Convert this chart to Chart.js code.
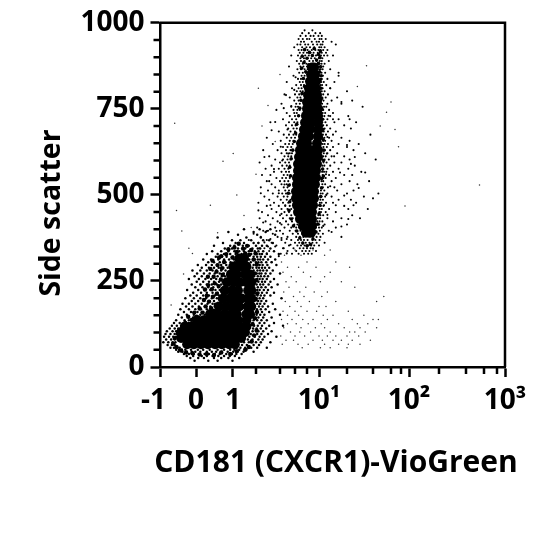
<!DOCTYPE html>
<html><head><meta charset="utf-8">
<style>html,body{margin:0;padding:0;background:#fff}canvas{display:block}</style>
<script src="https://cdn.jsdelivr.net/npm/chart.js@4"></script></head>
<body><canvas id="c" width="540" height="540"></canvas>
<script>
const xTitle = "CD181 (CXCR1)-VioGreen";
const yTitle = "Side scatter";
const xMajor = [-1,0,1,10,100,1000];
const xLabels = {"-1":"-1","0":"0","1":"1","10":"10¹","100":"10²","1000":"10³"};
const xMinor = [2,4,6,8,20,40,60,80,200,400,600,800];
const xAxisValues = [-1,0,1,2,4,6,8,10,20,40,60,80,100,200,400,600,800,1000];
const yMajor = [0,250,500,750,1000];
const yMinor = [50,100,150,200,300,350,400,450,550,600,650,700,800,850,900,950];

const lowerCoreRows = [
[66,[-0.25,-0.06,0.14,0.33,0.53,0.72,0.92,1.12]],
[84,[-0.42,-0.22,-0.03,0.17,0.36,0.56,0.75,0.94,1.17,1.38]],
[101,[-0.42,-0.22,-0.03,0.17,0.36,0.56,0.75,0.94,1.17,1.38,1.54]],
[118,[-0.31,-0.11,0.08,0.28,0.47,0.67,0.86,1.08,1.3,1.6]],
[136,[0.03,0.22,0.42,0.61,0.81,1,1.25,1.6]],
[153,[0.39,0.58,0.78,0.97,1.2,1.6,1.75]],
[176,[0.64,0.83,1.03,1.3,1.65,1.8]],
[199,[0.75,0.94,1.17,1.4,1.65,1.8]],
[222,[0.8,1,1.25,1.67,1.8]],
[246,[0.86,1.08,1.33,1.6,1.8]],
[269,[0.97,1.2,1.54,1.75]],
[292,[1.05,1.2,1.38,1.6]],
[315,[1.3,1.5]]];
const upperCoreRows = [
[870,[8.83,9.17]],[850,[8.67,9.33]],[830,[8.5,9.5]],[810,[8.33,9,9.5]],[790,[8.17,9,9.67]],
[770,[8,8.83,9.67]],[750,[8,8.83,9.83]],[730,[7.83,8.67,9.83]],[710,[7.67,8.67,9.83]],
[690,[7.5,8.5,9.83]],[670,[7.33,8.33,9.83]],[650,[7,8,9.67]],[630,[6.83,7.83,8.83,9.83]],
[610,[6.67,7.67,8.67,9.83]],[590,[6.5,7.5,8.5,9.67]],[570,[6.5,7.5,8.5,9.5]],[550,[6.33,7.33,8.33,9.5]],
[530,[6.33,7.33,8.33,9.33]],[510,[6.17,7.17,8.17,9.17]],[490,[6.17,7.17,8.17,9.17]],[470,[6.33,7.33,8.17,9]],
[450,[6.5,7.5,8.33,8.83]],[430,[6.83,7.67,8.33,8.83]],[410,[7.33,7.83,8.33,8.83]],[390,[7.83,8.33,8.67]]];

const upperRows = [
[978,[7.6,8.9]],[970,[7.2,8.3,9.4,10.4]],[962,[6.9,7.8,8.6,9.1,9.9,11]],[953,[6.6,7.3,8,8.4,9.3,10.2,10.9,12.4]],
[945,[7,7.5,8.8,9.6,10,11.4,14.5]],[937,[6.4,6.9,7.7,8.2,9,9.7,10.6,11.2,16]],[929,[5.9,7.2,7.9,8.5,9.2,10.1,10.8,12]],
[921,[6.6,7.1,7.6,8.1,8.8,9.4,9.9,10.5,11.5,13]],[913,[6.8,7.4,8,8.6,9.1,9.8,10.3,11,12.5]],
[905,[5.5,6.5,7.2,7.7,8.3,8.9,9.5,10.2,10.7,11.8,15]],[897,[6.9,7.5,8.1,8.7,9.3,10,10.5,11.2]],
[889,[6.3,7,7.6,8.4,9,9.6,10.3,11,13.5]],[881,[6.7,7.3,7.9,9.7,10.2,10.9,12]],[873,[5.2,6.9,7.4,8,10,10.6,11.5]],
[865,[6.4,7,7.6,8.1,10.1,10.6,11.3,14]],[855,[6.7,7.3,7.8,10.3,10.9,12.2]],[846,[5.8,7.1,7.6,10.2,10.7,11.4,17]],
[837,[6.5,7,7.4,10.4,11,13]],[828,[4.9,6.8,7.3,10.3,10.8,11.7,15.5]],[819,[6.2,7,7.5,10.5,11.1,12.6]],
[810,[5.6,6.6,7.1,10.4,11.3,14]],[801,[6.3,6.9,7.3,10.6,11,12,20]],[792,[4.6,6,6.7,7.1,10.5,11.5,13.2]],
[783,[5.3,6.4,6.9,10.7,11.2,12.4,16.5]],[774,[5.9,6.6,7,10.8,11.6,14.5,24]],[765,[4.2,6.2,6.8,10.6,11.1,13,18]],
[756,[5.5,6.1,6.5,10.9,11.8,12.6,32]],[747,[3.7,5.8,6.4,6.8,11,11.5,13.6]],[738,[4.9,5.9,6.3,10.8,11.3,12.2,15]],
[729,[5.3,6,6.6,11.1,11.9,14,21]],[720,[4.4,5.6,6.2,11,11.6,13,17]],[711,[3.2,5.2,5.9,6.4,11.2,12.3,15.5,27]],
[702,[4.8,5.6,6.1,10.9,11.5,12.8,19]],[693,[5.1,5.8,6.3,11.3,12,14,23]],[684,[3.9,5.4,6,11.1,11.7,13.2,16]],
[675,[4.5,5.2,5.8,6.2,11.4,12.5,15,38]],[666,[2.9,4.9,5.5,6,11.2,11.9,13.6,18]],[657,[4.1,5.3,5.8,11.5,12.2,14.5,22]],
[648,[3.4,4.7,5.2,5.7,11.3,12,13.2,17,29]],[639,[4.4,5,5.5,11.6,12.8,15,20]],[630,[2.6,3.8,4.8,5.4,11.4,12.1,14,25]],
[621,[4.2,4.9,5.3,5.6,11.7,13,16.5,34]],[612,[3.1,4.6,5.1,5.5,11.5,12.4,14.5,19]],[603,[3.6,4.4,5,5.4,11.3,12,13.5,22,43]],
[594,[2.3,4,4.7,5.2,11.6,12.7,15.5,18]],[585,[3.3,4.3,4.9,5.3,11.2,11.9,14,26]],[576,[2.8,3.9,4.6,5.1,11.4,13,17,21]],
[567,[3.5,4.2,4.8,5.2,11.1,11.8,12.6,15,31]],[558,[2.5,3.2,4.5,5,5.4,11.3,13.6,19,24]],[549,[3.7,4.3,4.8,5.3,11,11.6,12.4,16]],
[540,[2.9,4,4.6,5.1,10.9,11.5,14.5,22,37]],[531,[3.3,4.2,4.9,5.3,11.2,12.2,18,28]],[522,[2.4,3.6,4.5,5,10.8,11.4,13.2,15.5]],
[513,[3,3.9,4.7,5.2,10.7,11.9,16.5,25]],[504,[3.4,4.3,4.8,5.3,10.6,11.3,13,20,46]],[495,[2.7,3.8,4.5,5,10.9,12.2,14.5,33]],
[486,[3.1,4.1,4.9,5.4,10.5,11.4,17,23]],[477,[2.2,3.5,4.4,5.1,10.3,10.9,12.5,15,27]],[468,[2.9,3.9,4.7,5.3,10.6,11.6,19]],
[459,[3.3,4.2,5,5.5,10.2,11,13.6,21,36]],[450,[2.5,3.7,4.6,5.2,10.1,10.7,12.4,16]],[441,[3,4,4.9,5.5,9.9,10.5,11.5,24]],
[432,[2.3,3.4,4.4,5.3,5.7,9.8,10.4,13,18,30]],[423,[2.8,3.8,4.8,5.6,9.7,10.2,11.2,15]],[414,[3.2,4.2,5.1,5.9,6.4,9.6,10.1,12,20]],
[405,[2.1,3.6,4.6,5.5,6.2,6.7,9.5,10,11,16]],[396,[2.6,3,4,5.3,6.1,6.9,9.4,10.3,13.5]],[387,[1.9,3.4,4.4,5.7,6.5,7.2,9.2,9.9,11.4]],
[378,[2.4,3.8,5,6.2,6.8,7.4,9,9.6,10.5,18]],[369,[1.7,2.9,4.2,5.5,6.5,7,7.5,8.1,8.9,9.4,10.2]],
[361,[2.2,3.3,4.7,6,6.7,7.3,7.8,8.4,8.9,9.6,12]],[353,[3.7,5.2,6.4,7,7.6,8.2,8.7,9.2,10]],[345,[2.7,4.5,5.8,6.8,7.4,8,8.6,9]],
[337,[3.1,5,6.2,7.2,7.8,8.4,9.5]],[329,[4.1,5.6,6.6,7.5,8.2,8.8]]];

const lowerRows = [
[400,[1.5,2.3,3.2]],[392,[0.9,1.9,2.8]],[384,[1.25,2.1,3.6]],[376,[0.6,1.6,2.4]],[368,[1,1.35,1.8,2.6,3.1]],
[360,[0.75,1.15,1.5,1.9,2.2,3.4]],[352,[0.5,0.95,1.1,1.45,1.7,2,2.5,2.9]],[344,[0.8,1,1.25,1.55,1.85,2.15,2.35,3.2]],
[336,[0.45,0.7,0.9,1.1,1.3,1.5,1.7,1.95,2.2,2.6,3.5]],[328,[0.3,0.6,0.78,0.95,1.15,1.4,1.6,1.8,2.05,2.3,2.5,2.9,3.9]],
[320,[0.55,0.7,0.85,1.05,1.25,1.45,1.65,1.9,2.1,2.4,2.75,3.2]],
[312,[0.2,0.42,0.62,0.78,0.92,1.08,1.28,1.5,1.72,1.95,2.15,2.35,2.6,3,3.6]],
[304,[0.34,0.5,0.66,0.82,0.96,1.12,1.3,1.55,1.78,2,2.2,2.45,2.85,3.3]],
[296,[0.05,0.28,0.44,0.58,0.7,0.84,0.95,1.68,1.9,2.1,2.3,2.55,2.95,3.7]],
[288,[0.16,0.36,0.5,0.63,0.76,0.88,1.86,2.04,2.25,2.5,2.75,3.1]],
[280,[-0.1,0.12,0.3,0.46,0.57,0.7,0.82,1.9,2.12,2.35,2.6,2.9,3.4]],
[272,[0.03,0.22,0.38,0.52,0.66,0.77,1.85,2.06,2.28,2.45,2.8,3.2,4]],
[264,[-0.04,0.16,0.34,0.48,0.6,0.72,0.8,1.92,2.15,2.4,2.7,3]],
[256,[-0.2,0.08,0.26,0.42,0.56,0.68,1.88,2.1,2.3,2.55,2.9,3.5]],
[248,[0.02,0.2,0.36,0.5,0.64,0.74,1.95,2.2,2.5,2.75,3.2]],
[240,[-0.12,0.12,0.3,0.44,0.58,0.7,1.9,2.05,2.35,2.6,3.05,3.8]],
[232,[-0.02,0.18,0.34,0.48,0.62,1.92,2.15,2.45,2.8,3.3]],
[224,[-0.25,0.06,0.24,0.4,0.54,0.66,1.88,2.1,2.3,2.65,3]],
[216,[-0.08,0.14,0.3,0.46,0.6,1.9,2.2,2.5,2.9,3.5]],
[208,[-0.16,0.02,0.2,0.36,0.52,0.64,1.94,2.12,2.4,2.7,3.2]],
[200,[-0.3,-0.06,0.12,0.28,0.44,0.58,1.86,2.05,2.3,2.6,4.2]],
[192,[-0.12,0.06,0.22,0.38,0.5,1.92,2.18,2.45,2.85]],
[184,[-0.38,-0.2,-0.02,0.16,0.32,0.46,1.88,2.1,2.35,2.7,3.4]],
[176,[-0.28,-0.1,0.08,0.24,0.4,0.52,1.95,2.25,2.55,3]],
[168,[-0.44,-0.2,-0.02,0.14,0.3,0.42,1.9,2.08,2.4,2.8,3.6]],
[160,[-0.34,-0.14,0.04,0.2,0.32,1.86,2.15,2.5,3.1]],
[152,[-0.5,-0.26,-0.06,0.12,0.24,1.92,2.05,2.35,2.7,4]],
[144,[-0.4,-0.2,-0.08,-0.04,0.1,0.16,1.88,2.2,2.6,3.3]],
[136,[-0.56,-0.32,-0.2,-0.12,-0.02,0.08,1.9,2.1,2.45,2.9]],
[128,[-0.62,-0.46,-0.3,-0.2,-0.12,1.86,2.3,2.7,3.5]],
[120,[-0.68,-0.54,-0.42,-0.3,1.92,2.15,2.5,3.1,4.4]],
[112,[-0.74,-0.6,-0.5,-0.44,1.88,2.05,2.4,2.85]],
[104,[-0.82,-0.66,-0.56,-0.5,1.86,2.2,2.6,3.3]],
[96,[-0.86,-0.72,-0.6,-0.54,1.78,2.1,2.45,3]],
[88,[-0.9,-0.76,-0.64,-0.56,1.72,1.95,2.3,2.7,3.7]],
[80,[-0.84,-0.7,-0.6,1.66,1.85,2.2,2.55]],
[72,[-0.92,-0.78,-0.66,-0.58,1.5,1.7,2,2.4,3.2]],
[64,[-0.8,-0.68,-0.6,1.42,1.62,1.9,2.25]],
[56,[-0.72,-0.62,-0.52,-0.46,1.2,1.35,1.55,1.8,2.1,2.9]],
[50,[-0.56,-0.48,-0.4,-0.3,-0.14,0.05,0.2,0.38,0.6,0.78,0.95,1.1,1.3,1.6]],
[44,[-0.5,-0.38,-0.26,-0.12,-0.02,0.12,0.3,0.44,0.56,0.72,0.88,1.05,1.22,1.48,1.9]],
[38,[-0.34,-0.2,-0.06,0.08,0.24,0.36,0.52,0.66,0.84,1,1.18,1.4]],
[32,[-0.26,-0.08,0.16,0.3,0.46,0.62,0.78,0.94,1.12]],
[26,[-0.16,0.06,0.22,0.5,0.7,0.9,1.3]],[18,[-0.04,0.34,0.6,1.02]]];

const midLower = [[0.38,152],[0.42,171],[0.36,190],[0.5,163],[0.47,204],[0.55,181],[0.44,226],[0.58,213],[0.52,243],[0.61,168],[0.63,235],[0.49,262],[0.66,198],[0.57,277],[0.69,254],[0.72,287],[0.6,296],[0.74,268],[0.34,238],[0.3,207],[0.27,176],[0.22,195],[0.25,225],[0.18,158],[0.4,285],[0.33,262],[0.46,309],[0.64,318],[0.78,305],[0.84,328],[0.7,322],[0.9,342],[1.02,318],[1.1,347],[1.2,334],[1.28,358],[1.36,322],[1.46,344],[1.55,330],[1.63,352],[1.72,326],[1.8,340],[1.9,312],[1.98,330],[2.06,298],[1.95,272],[2.02,252],[2.1,214],[1.98,196],[2.08,160],[1.96,142],[1.86,124],[2.05,106],[1.92,92],[1.82,74],[1.7,58],[1.55,50],[-0.3,128],[-0.22,146],[-0.12,137],[-0.05,158],[0.02,146],[0.1,170],[-0.18,118],[-0.38,112],[-0.5,98],[-0.6,84],[-0.64,68],[-0.55,58],[-0.42,48],[-0.28,42],[-0.1,40],[0.1,36],[0.3,38],[0.5,35],[0.7,42],[0.95,38],[1.2,46]];
const midUpper = [[7.6,922],[8.4,914],[9.2,925],[9.9,908],[10.5,918],[7.2,903],[8,897],[8.9,905],[9.6,892],[10.3,899],[7.5,885],[8.3,878],[9.9,882],[10.6,872],[7.1,868],[7.8,858],[10.2,858],[10.8,846],[7.4,838],[7.6,815],[7.2,795],[7,775],[6.8,752],[6.6,730],[6.3,705],[6.1,680],[5.9,655],[5.7,630],[5.5,605],[5.3,580],[5.4,555],[5.2,528],[5.1,505],[5.3,480],[5.2,455],[5.5,430],[5.8,410],[6.3,395],[6.8,375],[7.3,360],[8,352],[8.6,356],[9,372],[9.5,392],[9.8,415],[10,445],[10.3,470],[10.6,495],[10.9,520],[11,548],[11.3,575],[11.6,600],[11.7,630],[11.5,660],[11.4,690],[11.2,720],[11,750],[10.9,780],[10.7,810],[10.5,835],[10.9,700],[11.6,555]];
const haloExtra = [[4.5,752],[3.3,688],[4.1,640],[2.7,610],[3.5,575],[4.6,530],[2.4,505],[3.2,470],[4.2,445],[2.6,420],[3.7,395],[4.9,372],[3,350],[5,690],[4.3,600],[3.9,505],[2.2,455],[5.1,620],[4.7,470],[3.6,712],[3.1,540],[2.9,395],[4,418],[5.5,758],[5.9,805],[6.1,842],[4.8,790],
[13,668],[15.4,612],[17.5,565],[14,525],[19,498],[16,470],[13,442],[21,430],[25,470],[18,408],[14.5,392],[29,520],[23,590],[20,645],[26,610],[15,720],[18,770],[14,810],[17,855],[13,905],[22,720],[34,565],[40,490],[12.5,560],[12.8,620],[12.6,500],[11.8,470],[11.5,410],[13.4,730],
[2.3,345],[3.2,372],[2.9,330],[3.6,350],[3.9,322],[4.4,345],[4.9,330],[3.3,305],[2.7,362],[4.2,375],[5.4,355]];

const lowerRightRows = [
[340,[6,9,14]],[325,[4.6,7,12]],[305,[4.2,8,16]],[290,[5,6.6,9.5,22]],[275,[4.4,7.4,14]],[262,[5.5,8.6,12]],
[248,[4.8,6.2,10.5,18]],[232,[5.2,7.8,26]],[218,[4.5,6.8,9.2,13]],[205,[5.8,7.5,11,52]],[190,[4.7,6.4,8.4,16,44]],
[176,[5.3,7,10,12.5]],[162,[4.4,6,8,9.6,21]],[150,[5,6.6,11.5,15,33]],[138,[4.2,5.6,7.3,9,13,24,40,46]],[126,[5,6.2,8.2,10.8,17,28,36]],
[114,[4.5,7,9.4,12,19,30,44]],[102,[5.4,6.8,8.6,14,22,26,34]],[90,[4.1,6,7.6,10,13,16,20,29]],[78,[4.8,5.8,9,11.2,15,18,24,38]],
[66,[4.3,6.5,8.2,12,17,21,30]],[56,[7.2,10.5,14,20]]];
const farField = [[550,529],[90,468],[-0.6,708],[0.75,598],[-0.4,395],[0.4,470],[1.2,500],[1.5,440],[0.6,390],[1.8,405],[1.05,620],[2,560],[60,770],[75,640],[55,740],[68,690],[48,700],[-0.55,455],[-0.1,330],[-0.35,270],[-0.7,180],[-0.2,345],[28,815],[35,875],[3,760],[2.5,700],[4,850],[2.2,810],[3.6,655]];

class HLogScale extends Chart.LinearScale {
  determineDataLimits(){ this.min = xAxisValues[0]; this.max = xAxisValues[xAxisValues.length-1]; }
  buildTicks(){ return xMajor.map(value => ({value})); }
  getPixelForValue(v){
    const a = xAxisValues, pos = [0,35.5,71.5,95.5,119.5,134.5,146.5,158.5,186.5,212.5,230.5,240.5,248.5,278.5,305.5,323.5,336.5,344.5];
    let i = 0;
    while (i < a.length-2 && v > a[i+1]) i++;
    const d = pos[i] + (pos[i+1]-pos[i])*(v-a[i])/(a[i+1]-a[i]);
    return this.getPixelForDecimal(d/344.5);
  }
  _computeLabelItems(area){
    const items = super._computeLabelItems(area);
    if (items[0]) items[0].options.translation[0] -= 7;
    if (items[2]) items[2].options.translation[0] += 1;
    return items;
  }
}
HLogScale.id = 'hlog';
HLogScale.defaults = {};
Chart.register(HLogScale);

const fontFamily = '"Open Sans", sans-serif';
const toPts = a => a.map(p => ({x:p[0], y:p[1]}));
const rowPts = rows => rows.flatMap(r => r[1].map(x => ({x, y:r[0]})));
const decor = {
  id:'decor',
  afterDraw(ch){
    const c = ch.ctx, A = ch.chartArea, X = ch.scales.x, Y = ch.scales.y;
    c.save();
    c.strokeStyle = '#000'; c.lineWidth = 2.5;
    c.beginPath(); c.moveTo(A.left-1.25,A.top); c.lineTo(A.right,A.top); c.lineTo(A.right,A.bottom); c.stroke();
    c.beginPath();
    xMinor.forEach(v => { const p = X.getPixelForValue(v); c.moveTo(p,A.bottom); c.lineTo(p,A.bottom+7); });
    yMinor.forEach(v => { const p = Y.getPixelForValue(v); c.moveTo(A.left,p); c.lineTo(A.left-7,p); });
    c.stroke();
    c.fillStyle = '#000';
    c.textAlign = 'center'; c.textBaseline = 'middle';
    c.font = '700 30px ' + fontFamily;
    c.fillText(xTitle, 336, 463);
    c.font = '700 28.5px ' + fontFamily;
    c.translate(52, 213); c.rotate(-Math.PI/2);
    c.fillText(yTitle, 0, 0);
    c.restore();
  }
};

new Chart(document.getElementById('c'), {
  type:'scatter',
  data:{datasets:[
    {data:toPts(farField).concat(rowPts(lowerRightRows)), pointRadius:0.75, backgroundColor:'#333', borderWidth:0},
    {data:toPts(haloExtra), pointRadius:1.05, backgroundColor:'#000', borderWidth:0},
    {data:rowPts(upperRows), pointRadius:1.05, backgroundColor:'#000', borderWidth:0},
    {data:rowPts(lowerRows), pointRadius:1.25, backgroundColor:'#000', borderWidth:0},
    {data:toPts(midLower), pointRadius:2.2, backgroundColor:'#000', borderWidth:0},
    {data:toPts(midUpper), pointRadius:1.8, backgroundColor:'#000', borderWidth:0},
    {data:rowPts(lowerCoreRows), pointRadius:5, backgroundColor:'#000', borderWidth:0},
    {data:rowPts(upperCoreRows), pointRadius:5, backgroundColor:'#000', borderWidth:0}
  ]},
  options:{
    responsive:false, animation:false, events:[],
    layout:{padding:{top:21,right:35,left:0,bottom:0}},
    plugins:{legend:{display:false},tooltip:{enabled:false}},
    scales:{
      x:{type:'hlog', position:'bottom', min:-1, max:1000,
        afterFit(s){ s.height = 173; },
        border:{color:'#000',width:2.5},
        grid:{drawOnChartArea:false,tickLength:10,tickWidth:2.5,tickColor:'#000'},
        ticks:{autoSkip:false,maxRotation:0,minRotation:0,padding:7,color:'#000',
          font:{family:fontFamily,size:28,weight:'700'},
          callback:v => xLabels[String(v)]}},
      y:{type:'linear', position:'left', min:0, max:1000,
        afterFit(s){ s.width = 160.5; },
        afterBuildTicks(s){ s.ticks = yMajor.map(value => ({value})); },
        border:{color:'#000',width:2.5},
        grid:{drawOnChartArea:false,tickLength:10,tickWidth:2.5,tickColor:'#000'},
        ticks:{autoSkip:false,padding:6,color:'#000',
          font:{family:fontFamily,size:28,weight:'700'},
          callback:v => String(v)}}
    }
  },
  plugins:[decor]
});
</script></body></html>
